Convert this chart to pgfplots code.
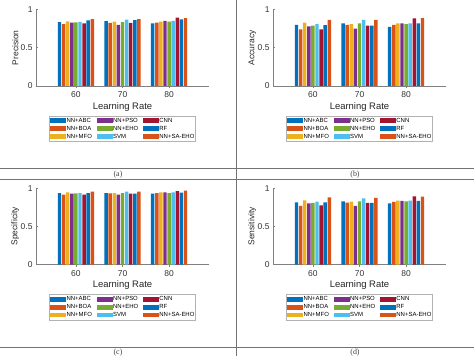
\documentclass[border=0pt]{standalone}
\usepackage{fontspec}
\setmainfont{Liberation Sans}
\newfontfamily\capfont{Liberation Serif}
\usepackage{pgfplots}
\usepackage{pgfplotstable}
\pgfplotsset{compat=1.18}

\definecolor{c1}{rgb}{0,0.447,0.741}
\definecolor{c2}{rgb}{0.85,0.325,0.098}
\definecolor{c3}{rgb}{0.929,0.694,0.125}
\definecolor{c4}{rgb}{0.494,0.184,0.556}
\definecolor{c5}{rgb}{0.466,0.674,0.188}
\definecolor{c6}{rgb}{0.301,0.745,0.933}
\definecolor{c7}{rgb}{0.635,0.078,0.184}

\pgfplotstableread{
x abc boa mfo pso eho svm cnn rf sa
1 0.835 0.810 0.845 0.830 0.832 0.837 0.818 0.858 0.875
2 0.848 0.826 0.840 0.800 0.835 0.868 0.826 0.860 0.874
3 0.820 0.830 0.843 0.852 0.840 0.852 0.893 0.872 0.886
}\precision
\pgfplotstableread{
x abc boa mfo pso eho svm cnn rf sa
1 0.800 0.740 0.830 0.780 0.790 0.810 0.740 0.795 0.865
2 0.817 0.800 0.810 0.750 0.820 0.865 0.790 0.790 0.865
3 0.774 0.800 0.820 0.817 0.810 0.820 0.883 0.820 0.887
}\accuracy
\pgfplotstableread{
x abc boa mfo pso eho svm cnn rf sa
1 0.935 0.914 0.944 0.927 0.930 0.935 0.914 0.935 0.953
2 0.935 0.930 0.935 0.914 0.935 0.953 0.927 0.927 0.953
3 0.927 0.935 0.944 0.944 0.935 0.944 0.961 0.940 0.966
}\specificity
\pgfplotstableread{
x abc boa mfo pso eho svm cnn rf sa
1 0.815 0.768 0.840 0.800 0.807 0.824 0.773 0.815 0.880
2 0.828 0.810 0.824 0.768 0.828 0.867 0.807 0.807 0.871
3 0.800 0.820 0.837 0.833 0.828 0.837 0.893 0.833 0.888
}\sensitivity

\pgfplotsset{panel/.style={
  scale only axis, width=173bp, height=76.5bp, anchor=south west,
  xmin=0.143, xmax=3.857, ymin=0, ymax=1,
  axis x line=bottom, axis y line=left,
  axis line style={-, black!50, line width=0.5bp},
  xtick={1,2,3}, xticklabels={60,70,80},
  ytick={0,0.5,1}, yticklabels={0,0.5,1},
  tick align=inside, major tick length=2bp,
  tick style={black!50, line width=0.5bp},
  ybar=0.65bp, bar width=3.45bp,
  every axis plot/.append style={draw=none},
  /pgf/number format/assume math mode=true,
  ticklabel style={font=\fontsize{8.5}{9}\selectfont, text=black!80},
  xlabel={Learning Rate},
  xlabel style={font=\fontsize{9.5}{10}\selectfont, at={(axis description cs:0.5,-0.27)}, anchor=center, text=black!85},
  ylabel style={font=\fontsize{8.5}{9}\selectfont, at={(axis description cs:-0.12,0.5)}, anchor=center, text=black!85},
  legend columns=3, transpose legend, legend cell align=left,
  legend image code/.code={\fill[##1] (0bp,-2.3bp) rectangle (16bp,2.3bp);},
  legend style={at={(0.5,-0.39)}, anchor=north, draw=black!30, line width=0.4bp,
    font=\fontsize{6}{6}\selectfont, inner xsep=0.5bp, inner ysep=0.8bp,
    nodes={inner xsep=0.6bp, inner ysep=1.2bp, text height=4.3bp, text depth=1.2bp},
    /tikz/every even column/.append style={column sep=4bp}},
}}

\newcommand{\panel}[4]{%
\begin{axis}[panel, at={(#1,#2)}, ylabel={#4}]
\addplot[fill=c1] table[x=x,y=abc]{#3};
\addplot[fill=c2] table[x=x,y=boa]{#3};
\addplot[fill=c3] table[x=x,y=mfo]{#3};
\addplot[fill=c4] table[x=x,y=pso]{#3};
\addplot[fill=c5] table[x=x,y=eho]{#3};
\addplot[fill=c6] table[x=x,y=svm]{#3};
\addplot[fill=c7] table[x=x,y=cnn]{#3};
\addplot[fill=c1] table[x=x,y=rf]{#3};
\addplot[fill=c2] table[x=x,y=sa]{#3};
\legend{NN+ABC,NN+BOA,NN+MFO,NN+PSO,NN+EHO,SVM,CNN,RF,NN+SA-EHO}
\end{axis}}

\begin{document}
\begin{tikzpicture}
\useasboundingbox (0,0) rectangle (474bp,356bp);
\clip (0,0) rectangle (474bp,356bp);
\panel{36bp}{270bp}{\precision}{Precision}
\panel{273bp}{270bp}{\accuracy}{Accuracy}
\panel{36bp}{91.4bp}{\specificity}{Specificity}
\panel{273bp}{91.4bp}{\sensitivity}{Sensitivity}
\draw[black!55, line width=1bp] (236.7bp,0) -- (236.7bp,356bp);
\draw[black!55, line width=0.8bp] (0,187.3bp) -- (474bp,187.3bp);
\draw[black!55, line width=0.8bp] (0,176.7bp) -- (474bp,176.7bp);
\draw[black!55, line width=0.8bp] (0,8.7bp) -- (474bp,8.7bp);
\node[font=\capfont\fontsize{8}{8}\selectfont, text=black!75] at (118bp,181.6bp) {(a)};
\node[font=\capfont\fontsize{8}{8}\selectfont, text=black!75] at (355bp,181.6bp) {(b)};
\node[font=\capfont\fontsize{8}{8}\selectfont, text=black!75] at (118bp,3bp) {(c)};
\node[font=\capfont\fontsize{8}{8}\selectfont, text=black!75] at (355bp,3bp) {(d)};
\end{tikzpicture}
\end{document}
